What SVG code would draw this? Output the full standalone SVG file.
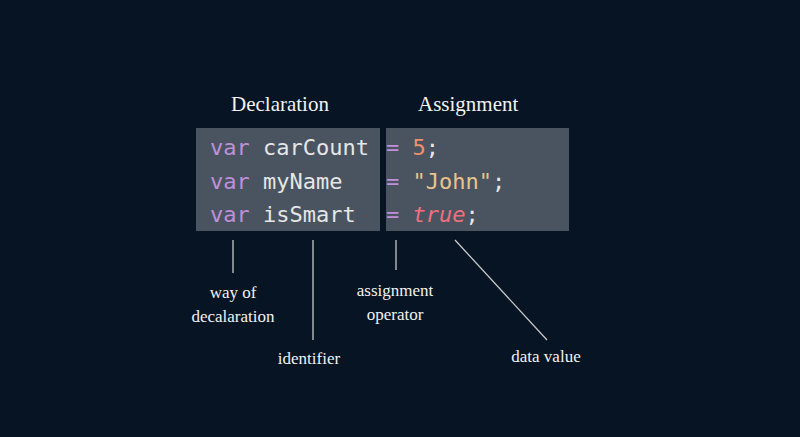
<svg xmlns="http://www.w3.org/2000/svg" width="800" height="437" viewBox="0 0 800 437">
<style>
.h{font-family:"Liberation Serif",serif;font-size:21px;fill:#f2f2f2}
.l{font-family:"Liberation Serif",serif;font-size:17px;fill:#f2f2f2;text-anchor:middle}
.c{font-family:"DejaVu Sans Mono",monospace;font-size:22px;fill:#e6e6e6}
.k{fill:#c08fd8}.n{fill:#f0906a}.s{fill:#e8c48a}.t{fill:#ef6f7f;font-style:italic}
.b{fill:#4a5460}
line{stroke:#c8c8c8;stroke-width:1.3}
</style>
<rect width="800" height="437" fill="#061423"/>
<text class="h" x="231" y="111">Declaration</text>
<text class="h" x="418" y="111">Assignment</text>
<g id="declaration"><rect class="b" x="196" y="128" width="184" height="103"/>
<text class="c" x="210" y="155"><tspan class="k">var</tspan> carCount</text>
<text class="c" x="210" y="189"><tspan class="k">var</tspan> myName</text>
<text class="c" x="210" y="222"><tspan class="k">var</tspan> isSmart</text></g>
<g id="assignment"><rect class="b" x="386" y="128" width="183" height="103"/>
<text class="c" x="386" y="155"><tspan class="k">=</tspan> <tspan class="n">5</tspan>;</text>
<text class="c" x="386" y="189"><tspan class="k">=</tspan> <tspan class="s">"John"</tspan>;</text>
<text class="c" x="386" y="222"><tspan class="k">=</tspan> <tspan class="t">true</tspan>;</text></g>
<g id="connectors">
<line x1="233" y1="240" x2="233" y2="273"/>
<line x1="313" y1="240" x2="313" y2="340"/>
<line x1="396" y1="240" x2="396" y2="270"/>
<line x1="455" y1="240" x2="547" y2="340"/>
</g>
<g id="way"><text class="l" x="233" y="298">way of</text><text class="l" x="233" y="322">decalaration</text></g>
<g id="identifier"><text class="l" x="309" y="364">identifier</text></g>
<g id="operator"><text class="l" x="395" y="296">assignment</text><text class="l" x="395" y="320">operator</text></g>
<g id="value"><text class="l" x="546" y="362">data value</text></g>
</svg>
